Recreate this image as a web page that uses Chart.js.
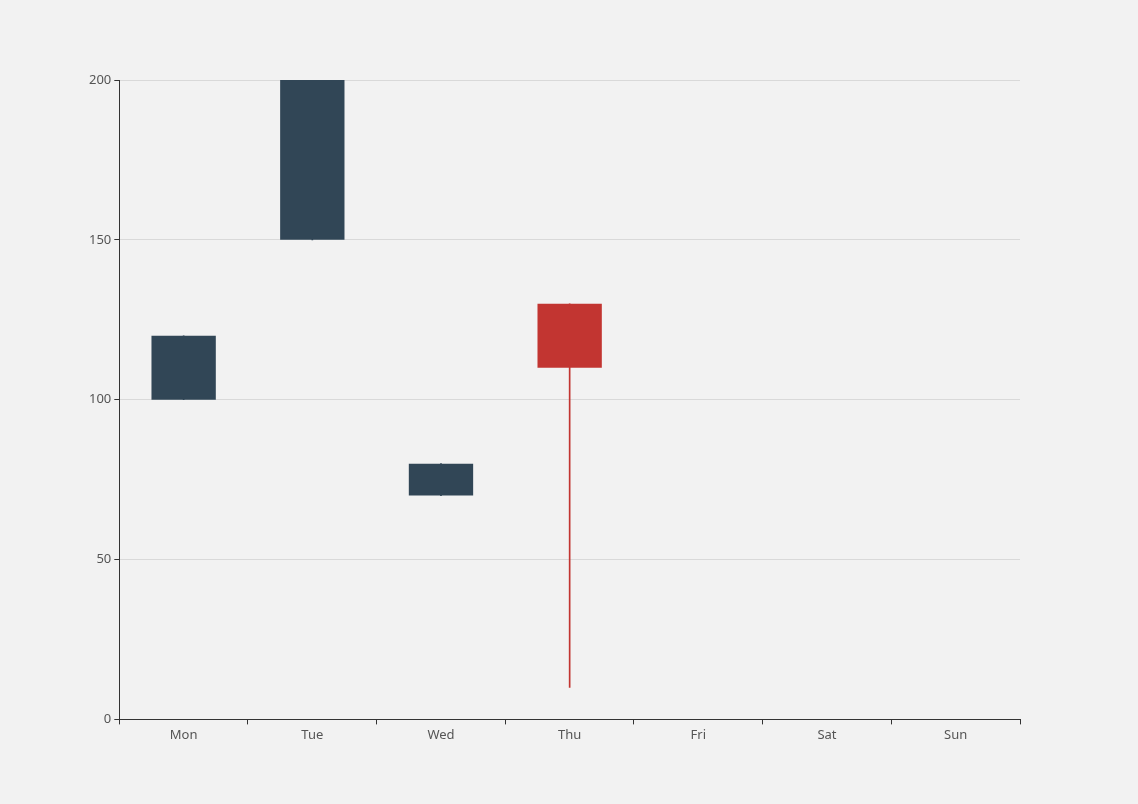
<!DOCTYPE html>
<html><head><meta charset="utf-8">
<script src="https://cdn.jsdelivr.net/npm/chart.js@4"></script>
<style>html,body{margin:0;padding:0;background:#f2f2f2;}#w{width:1138px;height:804px;}</style>
</head><body><div id="w"><canvas id="c"></canvas></div>
<script>
const categories = ['Mon','Tue','Wed','Thu','Fri','Sat','Sun'];
const openVals  = [120, 200, 80, 110, null, null, null];
const closeVals = [100, 150, 70, 130, null, null, null];
const lowVals   = [100, 150, 70, 10, null, null, null];
const highVals  = [120, 200, 80, 130, null, null, null];
const yTicks = [0, 50, 100, 150, 200];

const body = categories.map((_, i) => openVals[i] == null ? null : [Math.min(openVals[i], closeVals[i]), Math.max(openVals[i], closeVals[i])]);
const wick = categories.map((_, i) => lowVals[i] == null ? null : [lowVals[i], highVals[i]]);
const colors = categories.map((_, i) => closeVals[i] > openVals[i] ? '#c23531' : '#314656');

new Chart(document.getElementById('c'), {
  type: 'bar',
  data: { labels: categories, datasets: [
    { data: body, backgroundColor: colors, categoryPercentage: 1, barPercentage: 0.5, grouped: false, order: 1 },
    { data: wick, backgroundColor: colors, barThickness: 1, grouped: false, order: 2 }
  ]},
  options: {
    responsive: true, maintainAspectRatio: false, animation: false,
    layout: { padding: { top: 80, right: 118, bottom: 58, left: 86 } },
    plugins: { legend: { display: false }, tooltip: { enabled: false } },
    scales: {
      x: { offset: true,
        grid: { offset: true, drawOnChartArea: false, drawTicks: true, tickLength: 5, color: '#333' },
        border: { color: '#333' },
        ticks: { color: '#555', font: { family: 'Noto Sans', size: 13 } } },
      y: { min: 0, max: 200,
        afterBuildTicks: s => { s.ticks = yTicks.map(v => ({ value: v })); },
        grid: { color: '#d9d9d9', tickColor: '#333', tickLength: 5 },
        border: { color: '#333' },
        ticks: { color: '#555', font: { family: 'Noto Sans', size: 13 } } }
    }
  }
});
</script></body></html>
